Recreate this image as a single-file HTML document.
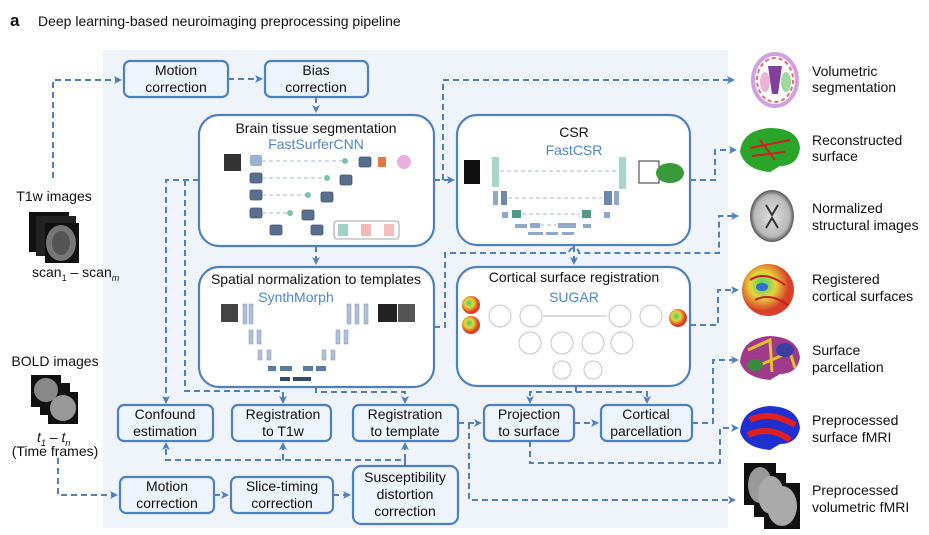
<!DOCTYPE html>
<html><head><meta charset="utf-8"><style>
html,body{margin:0;padding:0;background:#fff}
svg{display:block}
text{font-family:"Liberation Sans",sans-serif;fill:#111}
.bx{fill:#fff;stroke:#4f7fbf;stroke-width:2.2}
.sb{fill:#eef4fb;stroke:#4f7fbf;stroke-width:2.2}
.d{fill:none;stroke:#4f7fbf;stroke-width:2;stroke-dasharray:6 4}
.t{font-size:14px;text-anchor:middle}
.b{font-size:14px;fill:#4f86c6;text-anchor:middle}
.r{font-size:14px}
.nb{fill:#5a6f8e;stroke:#3f5270;stroke-width:.8}
.lb{fill:#aebfd6;stroke:#8fa3c0;stroke-width:.6}
</style></head><body>
<svg width="929" height="535" viewBox="0 0 929 535">
<defs>
<marker id="a" markerWidth="8" markerHeight="8" refX="6" refY="4" orient="auto" markerUnits="userSpaceOnUse"><path d="M0,0 L8,4 L0,8 L2,4z" fill="#4f7fbf"/></marker>
<radialGradient id="sph" cx="40%" cy="40%"><stop offset="0" stop-color="#3cd26c"/><stop offset=".5" stop-color="#e6d43a"/><stop offset="1" stop-color="#d8402a"/></radialGradient>
<radialGradient id="gb" cx="50%" cy="50%"><stop offset="0" stop-color="#e0e0e0"/><stop offset=".8" stop-color="#b8b8b8"/><stop offset="1" stop-color="#555"/></radialGradient>
</defs>
<rect x="103" y="50" width="625" height="478" fill="#eef4fa"/>
<text x="10" y="26" style="font-size:17px;font-weight:bold">a</text>
<text x="38" y="26" style="font-size:14px">Deep learning-based neuroimaging preprocessing pipeline</text>

<!-- connectors -->
<path class="d" d="M53,178 V80 H120" marker-end="url(#a)"/>
<path class="d" d="M228,79 H261" marker-end="url(#a)"/>
<path class="d" d="M316,97 V111" marker-end="url(#a)"/>
<path class="d" d="M316,246 V263" marker-end="url(#a)"/>
<path class="d" d="M434,180 H453" marker-end="url(#a)"/>
<path class="d" d="M443,180 V80 H733" marker-end="url(#a)"/>
<path class="d" d="M690,180 H715 V150 H735" marker-end="url(#a)"/>
<path class="d" d="M434,327 H445 V253 H569 A5,5 0 0 1 579,253 H719 V216 H737" marker-end="url(#a)"/>
<path class="d" d="M574,246 V263" marker-end="url(#a)"/>
<path class="d" d="M690,325 H718 V290 H737" marker-end="url(#a)"/>
<path class="d" d="M576,386 V392 H530 V402" marker-end="url(#a)"/>
<path class="d" d="M576,392 H647 V402" marker-end="url(#a)"/>
<path class="d" d="M574,423 H597" marker-end="url(#a)"/>
<path class="d" d="M692,423 H713 V360 H737" marker-end="url(#a)"/>
<path class="d" d="M530,441 V463 H720 V428 H737" marker-end="url(#a)"/>
<path class="d" d="M458,423 H469 V423 H480" marker-end="url(#a)"/>
<path class="d" d="M469,423 V500 H734" marker-end="url(#a)"/>
<path class="d" d="M199,180 H166 V402" marker-end="url(#a)"/>
<path class="d" d="M185,180 V391 H283 V402" marker-end="url(#a)"/>
<path class="d" d="M316,387 V392 H405 V402" marker-end="url(#a)"/>
<path class="d" d="M58,458 V495 H116" marker-end="url(#a)"/>
<path class="d" d="M214,495 H227" marker-end="url(#a)"/>
<path class="d" d="M333,495 H349" marker-end="url(#a)"/>
<path class="d" d="M405,466 V460 H166 V444" marker-end="url(#a)"/>
<path class="d" d="M283,460 V444" marker-end="url(#a)"/>
<path class="d" d="M405,460 V444" marker-end="url(#a)"/>

<!-- small boxes -->
<rect class="sb" x="124" y="61" width="104" height="36" rx="6"/>
<text class="t" x="176" y="75">Motion</text><text class="t" x="176" y="92">correction</text>
<rect class="sb" x="265" y="61" width="103" height="36" rx="6"/>
<text class="t" x="316" y="75">Bias</text><text class="t" x="316" y="92">correction</text>

<rect class="sb" x="118" y="405" width="95" height="36" rx="6"/>
<text class="t" x="165" y="419">Confound</text><text class="t" x="165" y="436">estimation</text>
<rect class="sb" x="232" y="405" width="99" height="36" rx="6"/>
<text class="t" x="283" y="419">Registration</text><text class="t" x="283" y="436">to T1w</text>
<rect class="sb" x="353" y="405" width="105" height="36" rx="6"/>
<text class="t" x="405" y="419">Registration</text><text class="t" x="405" y="436">to template</text>
<rect class="sb" x="484" y="405" width="90" height="36" rx="6"/>
<text class="t" x="529" y="419">Projection</text><text class="t" x="529" y="436">to surface</text>
<rect class="sb" x="601" y="405" width="91" height="36" rx="6"/>
<text class="t" x="646" y="419">Cortical</text><text class="t" x="646" y="436">parcellation</text>
<rect class="sb" x="120" y="477" width="94" height="36" rx="6"/>
<text class="t" x="167" y="491">Motion</text><text class="t" x="167" y="508">correction</text>
<rect class="sb" x="231" y="477" width="102" height="36" rx="6"/>
<text class="t" x="282" y="491">Slice-timing</text><text class="t" x="282" y="508">correction</text>
<rect class="sb" x="353" y="466" width="105" height="58" rx="8"/>
<text class="t" x="405" y="482">Susceptibility</text><text class="t" x="405" y="499">distortion</text><text class="t" x="405" y="516">correction</text>

<!-- big boxes -->
<rect class="bx" x="199" y="115" width="235" height="131" rx="20"/>
<text class="t" x="316" y="133">Brain tissue segmentation</text>
<text class="b" x="316" y="149">FastSurferCNN</text>
<rect x="224" y="154" width="17" height="17" fill="#333"/>
<rect x="250" y="155" width="12" height="11" rx="2" fill="#9db2d0"/>
<rect class="nb" x="250" y="173" width="12" height="10" rx="2"/>
<rect class="nb" x="250" y="190" width="12" height="10" rx="2"/>
<rect class="nb" x="250" y="208" width="12" height="10" rx="2"/>
<rect class="nb" x="270" y="225" width="12" height="10" rx="2"/>
<rect class="nb" x="302" y="210" width="12" height="10" rx="2"/>
<rect class="nb" x="321" y="192" width="12" height="10" rx="2"/>
<rect class="nb" x="340" y="175" width="12" height="10" rx="2"/>
<rect class="nb" x="359" y="157" width="12" height="10" rx="2"/>
<rect x="378" y="157" width="8" height="10" fill="#e07a40"/>
<circle cx="404" cy="162" r="7" fill="#e8b0e0"/>
<g stroke="#aab9cf" stroke-dasharray="4 3" stroke-width="1"><path d="M262,161 H348 M262,178 H328 M262,195 H310 M262,213 H290"/></g>
<g fill="#7bbfb0"><circle cx="345" cy="161" r="3"/><circle cx="327" cy="178" r="3"/><circle cx="308" cy="195" r="3"/><circle cx="290" cy="213" r="3"/></g>
<rect x="334" y="221" width="65" height="18" rx="3" fill="#fff" stroke="#888" stroke-width=".8"/>
<rect class="nb" x="311" y="225" width="12" height="10" rx="2"/>
<rect x="338" y="224" width="10" height="12" fill="#9fd0c4"/><rect x="361" y="224" width="10" height="12" fill="#f0b8b8"/><rect x="384" y="224" width="10" height="12" fill="#f0c0c0"/>

<rect class="bx" x="199" y="267" width="235" height="120" rx="20"/>
<text class="t" x="316" y="284">Spatial normalization to templates</text>
<text class="b" x="296" y="302">SynthMorph</text>
<rect x="221" y="304" width="17" height="18" fill="#444"/>
<rect x="378" y="304" width="19" height="18" fill="#222"/><rect x="398" y="304" width="17" height="18" fill="#555"/>
<g class="lb"><rect x="243" y="304" width="4" height="20"/><rect x="249" y="304" width="4" height="20"/><rect x="347" y="304" width="4" height="20"/><rect x="355" y="304" width="4" height="20"/><rect x="364" y="304" width="4" height="20"/>
<rect x="249" y="330" width="4" height="14"/><rect x="257" y="330" width="4" height="14"/><rect x="336" y="330" width="4" height="14"/><rect x="344" y="330" width="4" height="14"/>
<rect x="258" y="350" width="4" height="10"/><rect x="267" y="350" width="4" height="10"/><rect x="322" y="350" width="4" height="10"/><rect x="331" y="350" width="4" height="10"/></g>
<g fill="#5a7aa8"><rect x="268" y="366" width="8" height="5"/><rect x="280" y="366" width="12" height="5"/><rect x="303" y="366" width="10" height="5"/><rect x="316" y="366" width="10" height="5"/><rect x="280" y="377" width="10" height="4" fill="#334a70"/><rect x="293" y="377" width="18" height="4" fill="#334a70"/></g>

<rect class="bx" x="457" y="115" width="233" height="130" rx="20"/>
<text class="t" x="574" y="137">CSR</text>
<text class="b" x="574" y="155">FastCSR</text>
<rect x="464" y="160" width="16" height="24" fill="#111"/>
<rect x="639" y="161" width="20" height="22" fill="#fff" stroke="#333"/><ellipse cx="670" cy="173" rx="14" ry="10" fill="#3a9a3a"/>
<rect x="492" y="157" width="7" height="30" fill="#a8d4cc"/><rect x="619" y="157" width="7" height="32" fill="#a8d4cc"/>
<g fill="#8fa9cc"><rect x="493" y="191" width="5" height="14"/><rect x="501" y="191" width="6" height="14" fill="#6f86ad"/><rect x="604" y="191" width="8" height="14" fill="#6f86ad"/><rect x="614" y="191" width="5" height="14"/>
<rect x="502" y="212" width="6" height="6"/><rect x="512" y="210" width="9" height="8" fill="#4f9a86"/><rect x="582" y="210" width="9" height="8" fill="#4f9a86"/><rect x="604" y="212" width="6" height="6"/>
<rect x="515" y="224" width="12" height="4"/><rect x="530" y="223" width="10" height="5"/><rect x="558" y="223" width="18" height="5"/><rect x="583" y="224" width="8" height="4"/>
<rect x="528" y="232" width="15" height="3"/><rect x="546" y="232" width="12" height="3"/><rect x="562" y="232" width="12" height="3"/></g>
<g stroke="#aab9cf" stroke-dasharray="4 3" stroke-width="1"><path d="M500,171 H617 M508,198 H602 M522,214 H580 M540,225 H556"/></g>

<rect class="bx" x="457" y="267" width="233" height="119" rx="20"/>
<text class="t" x="574" y="282">Cortical surface registration</text>
<text class="b" x="574" y="302">SUGAR</text>
<circle cx="471" cy="305" r="9" fill="url(#sph)"/><circle cx="471" cy="325" r="9" fill="url(#sph)"/><circle cx="678" cy="318" r="9" fill="url(#sph)"/>
<g fill="none" stroke="#c8c0d0" stroke-width="1"><circle cx="500" cy="316" r="11"/><circle cx="531" cy="316" r="11"/><circle cx="620" cy="316" r="11"/><circle cx="651" cy="316" r="11"/><circle cx="530" cy="343" r="11"/><circle cx="562" cy="343" r="11"/><circle cx="593" cy="343" r="11"/><circle cx="622" cy="343" r="11"/><circle cx="562" cy="370" r="9"/><circle cx="593" cy="370" r="9"/></g>
<path d="M543,316 H607" stroke="#ddd" stroke-width="2"/>

<!-- left inputs -->
<text class="t" x="54" y="201">T1w images</text>
<rect x="29" y="212" width="40" height="40" fill="#111"/><rect x="36" y="216" width="40" height="40" fill="#222"/><rect x="45" y="223" width="34" height="40" fill="#111"/>
<ellipse cx="61" cy="243" rx="15" ry="18" fill="#777"/><ellipse cx="61" cy="243" rx="9" ry="12" fill="#555"/>
<text x="32" y="277" style="font-size:14px">scan<tspan font-size="9" dy="4">1</tspan><tspan dy="-4"> – scan</tspan><tspan font-size="9" dy="4" font-style="italic">m</tspan></text>
<text class="t" x="55" y="366">BOLD images</text>
<rect x="31" y="375" width="30" height="32" fill="#111"/><rect x="40" y="383" width="30" height="32" fill="#111"/><rect x="48" y="392" width="30" height="32" fill="#111"/>
<circle cx="46" cy="390" r="12" fill="#888"/><circle cx="63" cy="408" r="13" fill="#999"/>
<text x="37" y="442" style="font-size:14px;font-style:italic">t<tspan font-size="9" dy="4">1</tspan><tspan dy="-4" font-style="normal"> – </tspan>t<tspan font-size="9" dy="4">n</tspan></text>
<text class="t" x="55" y="456">(Time frames)</text>

<!-- right outputs -->
<ellipse cx="775" cy="80" rx="22" ry="26" fill="#fff" stroke="#d0a0e0" stroke-width="4"/><ellipse cx="775" cy="80" rx="18" ry="22" fill="none" stroke="#e07070" stroke-width="2" stroke-dasharray="4 3"/><path d="M768,66 L782,66 L778,94 L772,94z" fill="#8040a0"/><ellipse cx="765" cy="82" rx="5" ry="10" fill="#e080c0" opacity=".6"/><ellipse cx="786" cy="82" rx="5" ry="10" fill="#60c060" opacity=".6"/>
<path d="M740,152 Q742,130 770,128 Q798,128 800,148 Q798,166 780,166 L770,172 Q745,170 740,152z" fill="#2aa52a"/><path d="M750,148 L790,140 M752,156 L785,152 M760,140 L775,160" stroke="#d02020" stroke-width="2"/>
<ellipse cx="772" cy="216" rx="22" ry="26" fill="url(#gb)"/><path d="M766,205 L772,215 L778,205 M766,228 L772,218 L778,228" stroke="#333" stroke-width="2" fill="none"/>
<circle cx="768" cy="290" r="26" fill="url(#sph)"/><path d="M750,280 Q765,270 785,285 M755,300 Q770,292 788,305" stroke="#c02020" stroke-width="2" fill="none"/><ellipse cx="762" cy="287" rx="6" ry="4" fill="#3070d0"/>
<path d="M740,362 Q742,338 770,336 Q798,337 800,358 Q797,374 780,374 L770,380 Q745,378 740,362z" fill="#a03a8a"/><path d="M748,350 L770,340 L772,372 M760,365 L790,352 L795,368" stroke="#e0c030" stroke-width="3" fill="none"/><ellipse cx="785" cy="350" rx="9" ry="7" fill="#3a40a0"/><ellipse cx="755" cy="365" rx="8" ry="6" fill="#3a8a40"/>
<path d="M740,432 Q742,408 770,406 Q798,407 800,428 Q797,444 780,444 L770,450 Q745,448 740,432z" fill="#2030d0"/><path d="M750,420 Q770,410 795,425 M748,435 Q770,425 790,440" stroke="#e02020" stroke-width="6" fill="none"/>
<rect x="744" y="463" width="32" height="42" fill="#111"/><rect x="754" y="473" width="32" height="44" fill="#111"/><rect x="764" y="483" width="36" height="46" fill="#111"/>
<ellipse cx="760" cy="485" rx="12" ry="18" fill="#999"/><ellipse cx="771" cy="495" rx="13" ry="19" fill="#aaa"/><ellipse cx="782" cy="506" rx="15" ry="20" fill="#aaa"/>
<text class="r" x="812" y="76">Volumetric</text><text class="r" x="812" y="92">segmentation</text>
<text class="r" x="812" y="145">Reconstructed</text><text class="r" x="812" y="161">surface</text>
<text class="r" x="812" y="213">Normalized</text><text class="r" x="812" y="230">structural images</text>
<text class="r" x="812" y="284">Registered</text><text class="r" x="812" y="301">cortical surfaces</text>
<text class="r" x="812" y="355">Surface</text><text class="r" x="812" y="372">parcellation</text>
<text class="r" x="812" y="425">Preprocessed</text><text class="r" x="812" y="442">surface fMRI</text>
<text class="r" x="812" y="495">Preprocessed</text><text class="r" x="812" y="512">volumetric fMRI</text>
</svg>
</body></html>
